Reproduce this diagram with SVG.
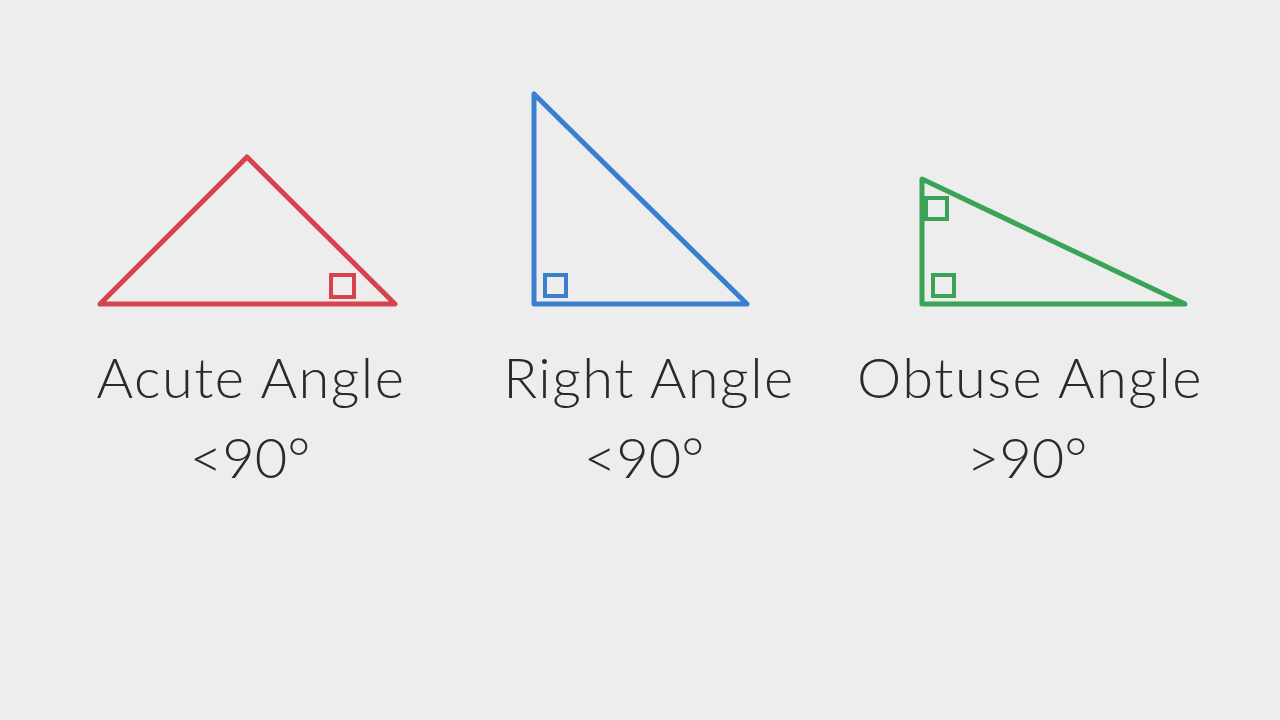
<svg xmlns="http://www.w3.org/2000/svg" width="1280" height="720" viewBox="0 0 1280 720">
<style>
.t{font-family:"Lato","Open Sans","Liberation Sans",sans-serif;font-weight:300;font-size:56px;fill:#2a2a2a;text-anchor:middle}
.w{letter-spacing:1.5px}
.tri{fill:none;stroke-width:5;stroke-linejoin:round;stroke-linecap:round}
.sq{fill:none;stroke-width:4}
</style>
<rect width="1280" height="720" fill="#ededed"/>
<g id="acute">
<polygon class="tri" stroke="#d6434d" points="100,304 247,157 395,304"/>
<rect class="sq" stroke="#d6434d" x="331" y="275" width="23" height="22"/>
<text class="t w" x="251" y="398">Acute Angle</text>
<text class="t" x="250" y="478">&lt;90°</text>
</g>
<g id="right">
<polygon class="tri" stroke="#3a7fcf" points="534,94 534,304 747,304"/>
<rect class="sq" stroke="#3a7fcf" x="545" y="275" width="21" height="21"/>
<text class="t w" x="649" y="398">Right Angle</text>
<text class="t" x="644" y="478">&lt;90°</text>
</g>
<g id="obtuse">
<polygon class="tri" stroke="#3aa356" points="922,179 922,304 1185,304"/>
<rect class="sq" stroke="#3aa356" x="926" y="198" width="21" height="21"/>
<rect class="sq" stroke="#3aa356" x="933" y="275" width="21" height="21"/>
<text class="t w" x="1030" y="398">Obtuse Angle</text>
<text class="t" x="1027" y="478">&gt;90°</text>
</g>
</svg>
